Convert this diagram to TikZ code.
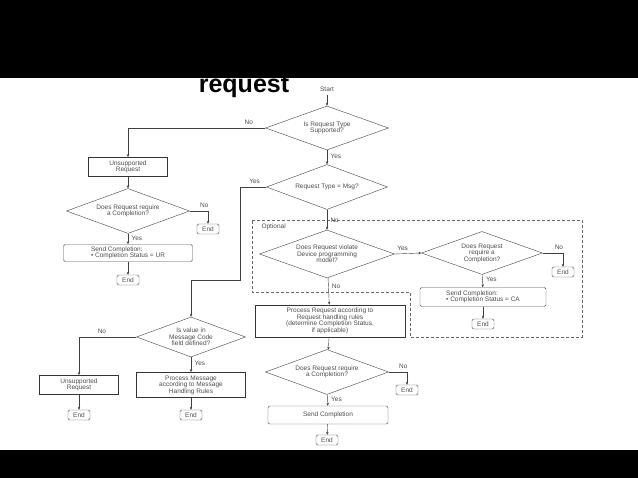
\documentclass[tikz,border=0pt]{standalone}
\usepackage{fontspec}
\setmainfont{Liberation Sans}
\usetikzlibrary{shapes.geometric,arrows.meta}
\tikzset{
  dec/.style={draw=black!75, diamond, aspect=2.7, inner sep=0pt, align=center, font=\fontsize{6.5}{6.5}\selectfont, text=black!70},
  box/.style={draw=black!80, thick, rectangle, inner sep=1pt, align=center, font=\fontsize{6.5}{6.5}\selectfont, text=black!70},
  rbox/.style={draw=black!70, rectangle, rounded corners=1.5pt, inner sep=1pt, align=left, font=\fontsize{6.5}{6.5}\selectfont, text=black!70},
  endbox/.style={draw=black!70, rectangle, rounded corners=1.5pt, minimum width=22pt, minimum height=10pt, inner sep=0pt, font=\fontsize{6.5}{6.5}\selectfont, text=black!70},
  lbl/.style={font=\fontsize{6.5}{6.5}\selectfont, text=black!70},
  line/.style={draw=black!75, -{Stealth[length=3pt,width=2.5pt]}},
}
\begin{document}
\begin{tikzpicture}[x=1pt,y=-1pt]
    \useasboundingbox (0,0) rectangle (638,478);
    % black bands
    \fill[black] (0,0) rectangle (638,78);
    \fill[black] (0,450) rectangle (638,478);
    \node[font=\bfseries\fontsize{25}{25}\selectfont, anchor=base] (title) at (244,93) {request};

    % main column
    \node[lbl] (start) at (327,89) {Start};
    \node[dec, minimum width=123pt, minimum height=44pt] (supp) at (327,128) {Is Request Type\\Supported?};
    \node[dec, minimum width=121pt, minimum height=45pt] (msg) at (327,187) {Request Type = Msg?};
    \node[dec, minimum width=135pt, minimum height=48pt] (viol) at (327,254) {Does Request violate\\Device programming\\model?};
    \node[box, minimum width=150pt, minimum height=32pt] (proc) at (330,321) {Process Request according to\\Request handling rules\\(determine Completion Status,\\if applicable)};
    \node[dec, minimum width=123pt, minimum height=45pt] (req3) at (327,372) {Does Request require\\a Completion?};
    \node[rbox, minimum width=120pt, minimum height=18pt, align=center] (send3) at (328,415) {Send Completion};
    \node[endbox] (end3) at (327,440) {End};
    \node[endbox] (end3n) at (407,390) {End};

    % unsupported branch
    \node[box, minimum width=79pt, minimum height=19pt] (unsup) at (128,167) {Unsupported\\Request};
    \node[dec, minimum width=123pt, minimum height=45pt] (req1) at (128,211) {Does Request require\\a Completion?};
    \node[rbox, minimum width=129pt, minimum height=17pt] (send1) at (128,253) {Send Completion:\\\textbullet{} Completion Status = UR};
    \node[endbox] (end1) at (128,280) {End};
    \node[endbox] (end1n) at (208,229) {End};

    % optional branch
    \node[dec, minimum width=121pt, minimum height=43pt] (req2) at (482,253) {Does Request\\require a\\Completion?};
    \node[rbox, minimum width=126pt, minimum height=19pt] (send2) at (483,297) {Send Completion:\\\textbullet{} Completion Status = CA};
    \node[endbox] (end2) at (483,324) {End};
    \node[endbox] (end2n) at (563,272) {End};

    % message branch
    \node[dec, minimum width=109pt, minimum height=40pt] (code) at (191,337) {Is value in\\Message Code\\field defined?};
    \node[box, minimum width=79pt, minimum height=19pt] (unsup2) at (79,385) {Unsupported\\Request};
    \node[box, minimum width=109pt, minimum height=25pt] (pmsg) at (191,385) {Process Message\\according to Message\\Handling Rules};
    \node[endbox] (end4) at (79,415) {End};
    \node[endbox] (end5) at (191,415) {End};

    % optional frame
    \draw[black!60, densely dashed] (252,220) -- (582,220) -- (582,337) -- (410,337) -- (410,292) -- (252,292) -- cycle;
    \node[lbl, anchor=west] (opt) at (258,227) {Optional};

    % connectors
    \path[line] (start) -- (supp);
    \path[line] (supp) -- node[lbl, right, pos=0.4] {Yes} (msg);
    \path[line] (msg) -- node[lbl, right, pos=0.55] {No} (viol);
    \path[line] (viol) -- node[lbl, right, pos=0.3] {No} (proc);
    \path[line] (proc) -- (req3);
    \path[line] (req3) -- node[lbl, right, pos=0.4] {Yes} (send3);
    \path[line] (send3) -- (end3);
    \path[line] (req3.east) -| node[lbl, above, pos=0.4] {No} (end3n);
    \path[line] (supp.west) -| node[lbl, above, pos=0.06] {No} (unsup);
    \path[line] (unsup) -- (req1);
    \path[line] (req1) -- node[lbl, right, pos=0.4] {Yes} (send1);
    \path[line] (send1) -- (end1);
    \path[line] (req1.east) -| node[lbl, above, pos=0.4] {No} (end1n);
    \path[line] (viol.east) -- node[lbl, above, pos=0.3] {Yes} (req2.west);
    \path[line] (req2) -- node[lbl, right, pos=0.4] {Yes} (send2);
    \path[line] (send2) -- (end2);
    \path[line] (req2.east) -| node[lbl, above, pos=0.4] {No} (end2n);
    \path[line] (msg.west) -- node[lbl, above, pos=0.45] {Yes} ++(-26,0) |- (191,280) -- (code);
    \path[line] (code.west) -| node[lbl, above, pos=0.3] {No} (unsup2);
    \path[line] (code) -- node[lbl, right, pos=0.4] {Yes} (pmsg);
    \path[line] (unsup2) -- (end4);
    \path[line] (pmsg) -- (end5);
\end{tikzpicture}
\end{document}
